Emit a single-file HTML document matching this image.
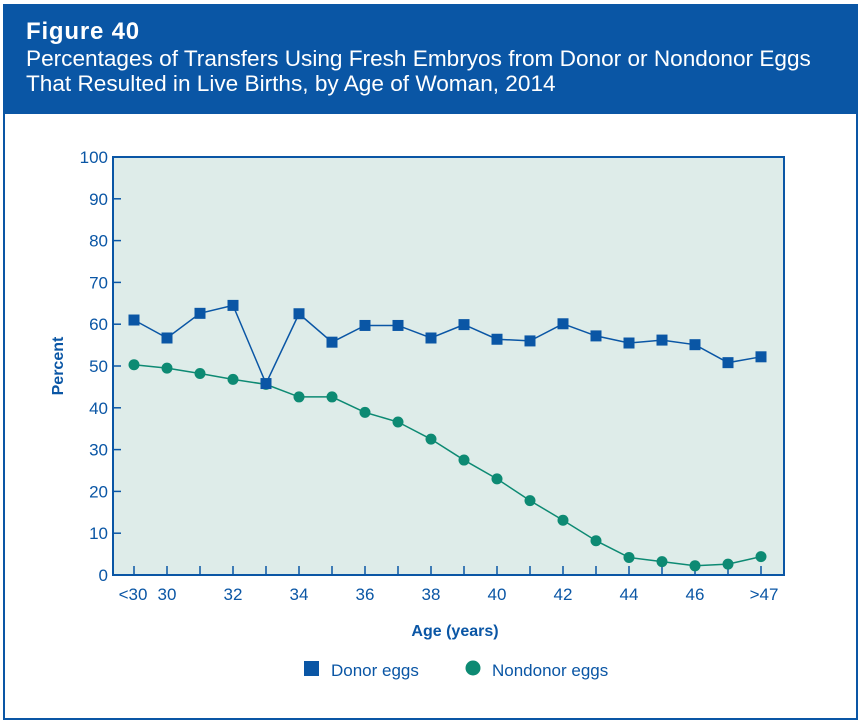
<!DOCTYPE html>
<html><head><meta charset="utf-8"><style>
body{margin:0;background:#fff;font-family:"Liberation Sans",Arial,sans-serif;}
#frame{position:absolute;left:3px;top:4px;width:851px;height:712px;border:2px solid #0a56a5;}
#hdr{position:absolute;left:0;top:0;width:851px;height:108px;background:#0a56a5;color:#fff;}
</style></head><body>
<div id="frame">
<div id="hdr">
<div style="position:absolute;left:21px;top:12px;font-size:24px;font-weight:bold;letter-spacing:0.8px">Figure 40</div>
<div style="position:absolute;left:21px;top:40px;font-size:22.6px;line-height:25px">Percentages of Transfers Using Fresh Embryos from Donor or Nondonor Eggs<br>That Resulted in Live Births, by Age of Woman, 2014</div>
</div></div>
<svg id="chart" width="861" height="726" style="position:absolute;left:0;top:0"></svg>
<script>
const categories=["<30","30","31","32","33","34","35","36","37","38","39","40","41","42","43","44","45","46","47",">47"];
const tickLabels=["<30","30","","32","","34","","36","","38","","40","","42","","44","","46","",">47"];
const donorValues=[61,56.7,62.6,64.5,45.8,62.5,55.7,59.7,59.7,56.7,59.9,56.4,56,60.1,57.2,55.5,56.2,55.1,50.8,52.2];
const nondonorValues=[50.3,49.5,48.2,46.8,45.6,42.6,42.6,38.9,36.6,32.5,27.5,23,17.8,13.1,8.2,4.2,3.2,2.2,2.6,4.4];
const yTicks=[0,10,20,30,40,50,60,70,80,90,100];
const NS="http://www.w3.org/2000/svg";
const svg=document.getElementById('chart');
const L=113,R=784,T=157,B=575,blue="#0a56a5",green="#0d8a73";
const x=i=>134+i*33;
const y=v=>B-(v/100)*(B-T);
function mk(t,a,p){const e=document.createElementNS(NS,t);for(const k in a)e.setAttribute(k,a[k]);(p||svg).appendChild(e);return e;}
let bg=mk('rect',{x:L,y:T,width:R-L,height:B-T,fill:"#deece9",stroke:blue,"stroke-width":2});


yTicks.forEach(v=>{
 let t=mk('line',{x1:L,x2:L+8,y1:y(v),y2:y(v),stroke:blue,"stroke-width":1.5});
 
 
 let l=mk('text',{x:L-5,y:y(v)+6,"text-anchor":"end","font-size":17,fill:blue});
 
 
 l.textContent=v;
});
categories.forEach((c,i)=>{
 let t=mk('line',{x1:x(i),x2:x(i),y1:B,y2:B-9,stroke:blue,"stroke-width":1.5});
 
 
 if(tickLabels[i]){
 let l=mk('text',{x:x(i)+(i==0?-1:i==19?3:0),y:B+25,"text-anchor":"middle","font-size":17,fill:blue});
 
 
 l.textContent=tickLabels[i];}
});
let yt=mk('text',{x:63,y:366,"text-anchor":"middle","font-size":16,"font-weight":"bold",fill:blue,transform:"rotate(-90 63 366)"});


yt.textContent="Percent";
let xt=mk('text',{x:455,y:636,"text-anchor":"middle","font-size":16,"font-weight":"bold",fill:blue});


xt.textContent="Age (years)";
function series(vals,color,sq,name){
 let ln=mk('polyline',{points:vals.map((v,i)=>x(i)+","+y(v)).join(" "),fill:"none",stroke:color,"stroke-width":1.5});
 
 
 vals.forEach((v,i)=>{
  let m=sq?mk('rect',{x:x(i)-5.5,y:y(v)-5.5,width:11,height:11,fill:color}):mk('circle',{cx:x(i),cy:y(v),r:5.5,fill:color});
  
  
 });
}
series(nondonorValues,green,false,'nondonor');
series(donorValues,blue,true,'donor');
let g1=mk('rect',{x:304,y:661,width:15,height:15,fill:blue});


let t1=mk('text',{x:331,y:676,"font-size":17,fill:blue});


t1.textContent="Donor eggs";
let g2=mk('circle',{cx:473,cy:668,r:7.5,fill:green});


let t2=mk('text',{x:492,y:676,"font-size":17,fill:blue});


t2.textContent="Nondonor eggs";
</script>
</body></html>
